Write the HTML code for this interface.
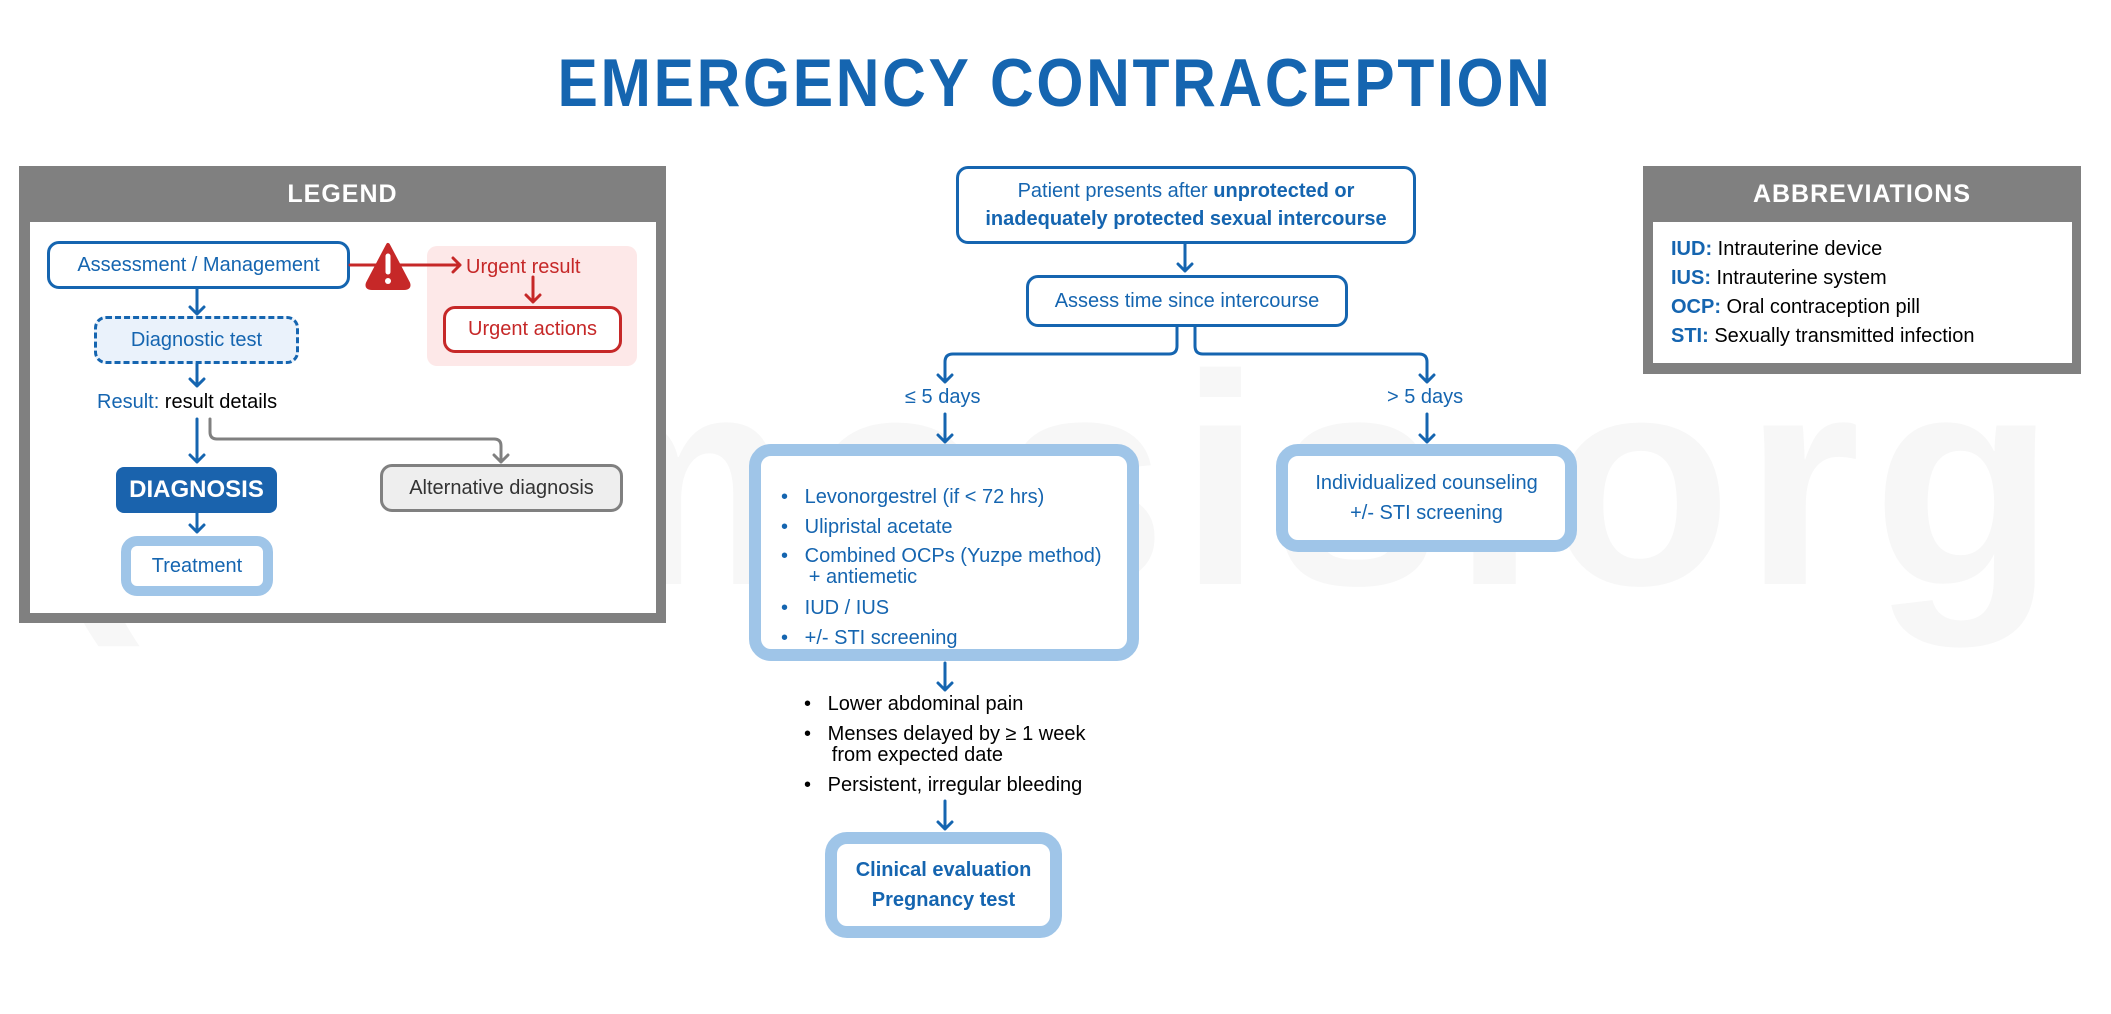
<!DOCTYPE html>
<html><head><meta charset="utf-8"><style>
body{margin:0;width:2111px;height:1014px;background:#fff;position:relative;overflow:hidden;font-family:"Liberation Sans",sans-serif;}
.a{position:absolute;box-sizing:border-box;}
.c{display:flex;align-items:center;justify-content:center;text-align:center;}
.blue{color:#1565b0;}
.bx{border:3px solid #1565b0;border-radius:12px;background:#fff;color:#1565b0;font-size:20px;}
.lb{border:12px solid #9fc5e8;border-radius:22px;background:#fff;color:#1565b0;font-size:20px;}
.t{position:absolute;white-space:nowrap;font-size:20px;line-height:1;}
ul{margin:0;padding:0;list-style:none}
</style></head><body>
<div class="a" style="left:40px;top:330px;font-size:300px;font-weight:bold;color:#f7f7f7;letter-spacing:12px;line-height:1;white-space:nowrap;">(osmosis.org</div>
<div class="a" style="left:0;width:2111px;top:40px;text-align:center;line-height:86px;">
<span style="display:inline-block;font-size:68px;font-weight:bold;color:#1565b0;letter-spacing:3px;transform:scaleX(0.89);white-space:nowrap;">EMERGENCY CONTRACEPTION</span></div>

<!-- legend -->
<div class="a" style="left:19px;top:166px;width:647px;height:457px;background:#808080;"></div>
<div class="a c" style="left:19px;top:166px;width:647px;height:56px;color:#fff;font-weight:bold;font-size:25px;letter-spacing:1px;">LEGEND</div>
<div class="a" style="left:30px;top:222px;width:626px;height:391px;background:#fff;"></div>
<div class="a" style="left:427px;top:246px;width:210px;height:120px;background:#fde8e8;border-radius:10px;"></div>
<div class="a c bx" style="left:47px;top:241px;width:303px;height:48px;">Assessment / Management</div>
<div class="a c bx" style="left:94px;top:316px;width:205px;height:48px;border-style:dashed;background:#eaf2fb;">Diagnostic test</div>
<div class="t" style="left:97px;top:392px;"><span class="blue">Result:</span> result details</div>
<div class="a c" style="left:116px;top:467px;width:161px;height:46px;background:#1a63ad;border-radius:8px;color:#fff;font-weight:bold;font-size:24px;">DIAGNOSIS</div>
<div class="a c lb" style="left:121px;top:536px;width:152px;height:60px;border-width:10px;border-radius:16px;">Treatment</div>
<div class="a c bx" style="left:380px;top:464px;width:243px;height:48px;border-color:#808080;background:#eee;color:#333;">Alternative diagnosis</div>
<div class="t" style="left:466px;top:257px;color:#c62828;">Urgent result</div>
<div class="a c bx" style="left:443px;top:306px;width:179px;height:47px;border-color:#c62828;color:#c62828;">Urgent actions</div>

<!-- abbreviations -->
<div class="a" style="left:1643px;top:166px;width:438px;height:208px;background:#808080;"></div>
<div class="a c" style="left:1643px;top:166px;width:438px;height:56px;color:#fff;font-weight:bold;font-size:25px;letter-spacing:1px;">ABBREVIATIONS</div>
<div class="a" style="left:1653px;top:222px;width:419px;height:141px;background:#fff;"></div>
<div class="t" style="left:1671px;top:239px;"><b class="blue">IUD:</b> Intrauterine device</div>
<div class="t" style="left:1671px;top:268px;"><b class="blue">IUS:</b> Intrauterine system</div>
<div class="t" style="left:1671px;top:297px;"><b class="blue">OCP:</b> Oral contraception pill</div>
<div class="t" style="left:1671px;top:326px;"><b class="blue">STI:</b> Sexually transmitted infection</div>

<!-- flow -->
<div class="a c bx" style="left:956px;top:166px;width:460px;height:78px;"><div style="line-height:28px;">Patient presents after <b>unprotected or</b><br><b>inadequately protected sexual intercourse</b></div></div>
<div class="a c bx" style="left:1026px;top:275px;width:322px;height:52px;">Assess time since intercourse</div>
<div class="t blue" style="left:905px;top:387px;">≤ 5 days</div>
<div class="t blue" style="left:1387px;top:387px;">&gt; 5 days</div>
<div class="a lb" style="left:749px;top:444px;width:390px;height:217px;">
<ul style="position:absolute;left:20px;top:26px;line-height:30px;">
<li>•&nbsp;&nbsp; Levonorgestrel (if &lt; 72 hrs)</li>
<li>•&nbsp;&nbsp; Ulipristal acetate</li>
<li style="line-height:21px;padding:4px 0 5px">•&nbsp;&nbsp; Combined OCPs (Yuzpe method)<br>&nbsp;&nbsp;&nbsp;&nbsp; + antiemetic</li>
<li>•&nbsp;&nbsp; IUD / IUS</li>
<li>•&nbsp;&nbsp; +/- STI screening</li></ul></div>
<div class="a c lb" style="left:1276px;top:444px;width:301px;height:108px;"><div style="line-height:30px;">Individualized counseling<br>+/- STI screening</div></div>
<ul class="a" style="left:804px;top:694px;font-size:20px;line-height:21px;">
<li style="margin-bottom:9px">•&nbsp;&nbsp; Lower abdominal pain</li>
<li style="margin-bottom:9px">•&nbsp;&nbsp; Menses delayed by ≥ 1 week<br>&nbsp;&nbsp;&nbsp;&nbsp; from expected date</li>
<li>•&nbsp;&nbsp; Persistent, irregular bleeding</li></ul>
<div class="a c lb" style="left:825px;top:832px;width:237px;height:106px;font-weight:bold;"><div style="line-height:30px;">Clinical evaluation<br>Pregnancy test</div></div>

<svg class="a" style="left:0;top:0" width="2111" height="1014" fill="none" stroke-width="3" stroke-linecap="round" stroke-linejoin="round">
<g stroke="#1565b0">
<path d="M197 289V314M190 307l7 7 7-7"/>
<path d="M197 364V386M190 379l7 7 7-7"/>
<path d="M197 419V462M190 455l7 7 7-7"/>
<path d="M197 513V532M190 525l7 7 7-7"/>
<path d="M1185 244V271M1178 264l7 7 7-7"/>
<path d="M1177 327V346q0 8-8 8H953q-8 0-8 8V382M938 375l7 7 7-7"/>
<path d="M1195 327V346q0 8 8 8H1419q8 0 8 8V382M1420 375l7 7 7-7"/>
<path d="M945 414V442M938 435l7 7 7-7"/>
<path d="M1427 414V442M1420 435l7 7 7-7"/>
<path d="M945 663V690M938 683l7 7 7-7"/>
<path d="M945 801V829M938 822l7 7 7-7"/>
</g>
<g stroke="#808080"><path d="M210 419V432q0 7 7 7H494q7 0 7 7V462M494 455l7 7 7-7"/></g>
<g stroke="#c62828"><path d="M350 265H460M453 258l7 7-7 7"/><path d="M533 277V302M526 295l7 7 7-7"/></g>
<path d="M388 245L408 283Q410 288 404 288H372Q366 288 368 283Z" fill="#c62828" stroke="#c62828" stroke-width="4"/>
<path d="M388 256V272" stroke="#fff" stroke-width="5"/><circle cx="388" cy="281" r="3" fill="#fff"/>
</svg>
</body></html>
